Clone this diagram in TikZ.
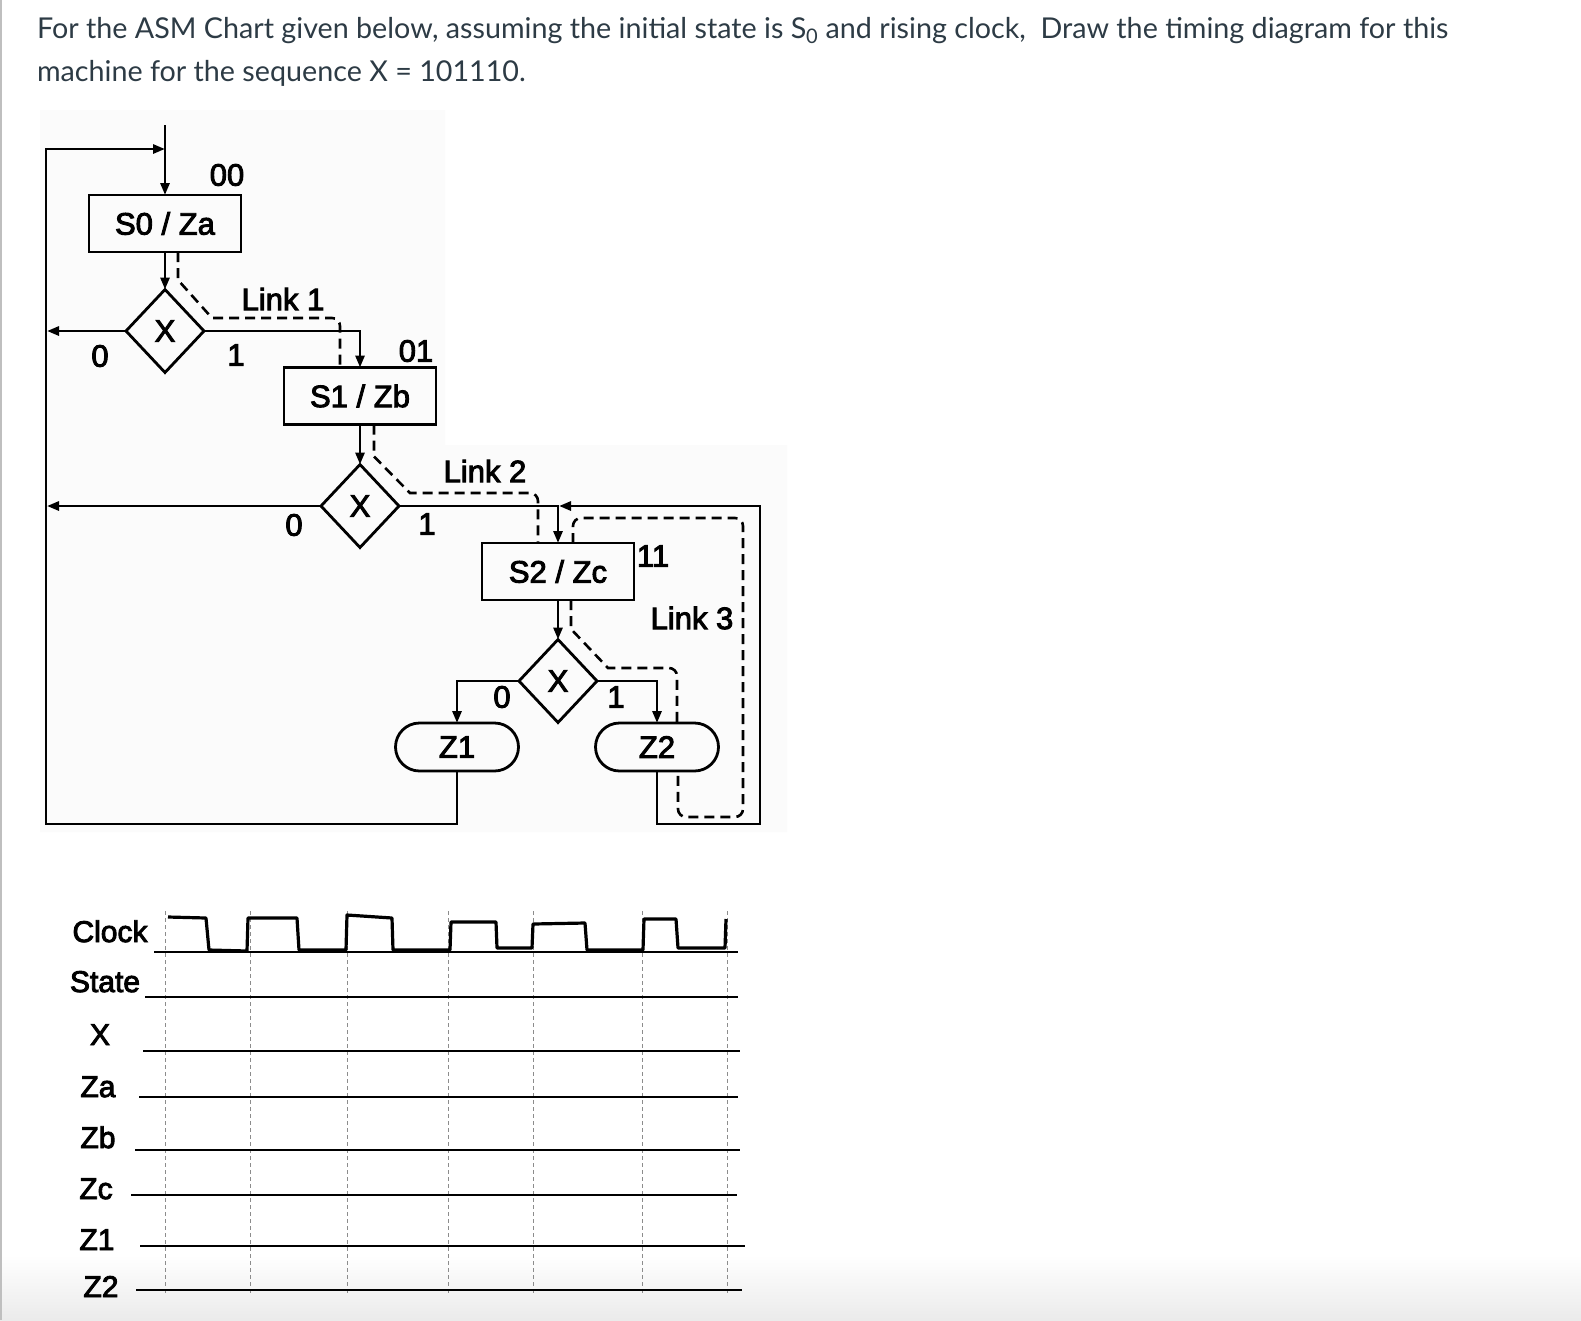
\documentclass[tikz,border=0pt]{standalone}
\usepackage{fontspec}
\usetikzlibrary{arrows.meta,shapes.geometric,shapes.misc}
\newfontfamily\titlefont{Lato}
\newfontfamily\asmfont{Liberation Sans}[FakeBold=3]
\definecolor{canvastext}{HTML}{2D3B45}
\definecolor{pastebg}{HTML}{FBFBFB}
\begin{document}
\begin{tikzpicture}[x=1pt,y=-1pt,
  every node/.style={inner sep=0pt, outer sep=0pt},
  wire/.style={line width=2.8pt, line join=miter},
  arr/.style={wire, -{Triangle[length=12pt,width=9pt]}},
  link/.style={line width=2.6pt, dash pattern=on 10pt off 6pt},
  stbox/.style={draw, line width=2.8pt, minimum width=152pt, minimum height=57pt, font=\asmfont\fontsize{31}{31}\selectfont},
  dec/.style={draw, diamond, line width=2.8pt, minimum width=78pt, minimum height=83pt, font=\asmfont\fontsize{31}{31}\selectfont},
  oval/.style={draw, rounded rectangle, line width=2.8pt, minimum width=123pt, minimum height=48pt, font=\asmfont\fontsize{31}{31}\selectfont},
  lab/.style={font=\asmfont\fontsize{31}{31}\selectfont},
  tlab/.style={font=\asmfont\fontsize{30}{30}\selectfont, anchor=base},
  ttl/.style={anchor=base west, text=canvastext, font=\titlefont\fontsize{28.7}{28.7}\selectfont},
  sig/.style={line width=2.2pt},
  gridl/.style={black!45, line width=0.9pt, dash pattern=on 4pt off 3pt},
  clk/.style={line width=3.2pt, line join=round},
]
\useasboundingbox (0,0) rectangle (1581,1320);
% page background elements
\shade[top color=white, bottom color=black!8] (0,1255) rectangle (1581,1320);
\fill[pastebg] (40,110) -- (445,110) -- (445,445) -- (787,445) -- (787,832) -- (40,832) -- cycle;
\draw[black!25, line width=2pt] (1,0) -- (1,1320);

% title
\node[ttl] (t1) at (37,38) {For the ASM Chart given below, assuming the initial state is S\textsubscript{0} and rising clock,\ \ Draw the timing diagram for this};
\node[ttl] (t2) at (37,81) {machine for the sequence X = 101110.};

% ASM chart
\coordinate (top) at (165,125);
\node[stbox] (s0) at (165,223.5) {S0 / Za};
\node[dec] (d1) at (165,331) {X};
\node[stbox] (s1) at (360,396) {S1 / Zb};
\node[dec] (d2) at (360,506) {X};
\node[stbox] (s2) at (558,571.5) {S2 / Zc};
\node[dec] (d3) at (558,681) {X};
\node[oval] (z1) at (457,747) {Z1};
\node[oval] (z2) at (657,747) {Z2};

\coordinate (lp1) at (165,149);
\coordinate (lw1) at (47,331);
\coordinate (lw2) at (47,506);
\coordinate (j2) at (559,506);

\draw[arr] (top) -- (s0.north);
\draw[arr] (z1.south) -- (457,824) -| (46,149) -- (lp1);
\draw[arr] (s0.south) -- (d1.north);
\draw[arr] (d1.west) -- (lw1);
\draw[arr] (d1.east) -| (s1.north);
\draw[arr] (s1.south) -- (d2.north);
\draw[arr] (d2.west) -- (lw2);
\draw[arr] (d2.east) -| (s2.north);
\draw[arr] (z2.south) -- (657,824) -| (760,506) -- (j2);
\draw[arr] (s2.south) -- (d3.north);
\draw[arr] (d3.west) -| (z1.north);
\draw[arr] (d3.east) -| (z2.north);

% dashed links
\draw[link] ([xshift=13pt]s0.south) -- ++(0,28) -- (212,318) [rounded corners=8pt] -| ([xshift=-20pt]s1.north);
\draw[link] ([xshift=14pt]s1.south) -- ++(0,32) -- (410,493) [rounded corners=8pt] -| ([xshift=-20pt]s2.north);
\draw[link] ([xshift=13pt]s2.south) -- ++(0,29) -- (608,668) [rounded corners=8pt] -| ([xshift=20pt]z2.north);
\draw[link, rounded corners=8pt] ([xshift=15pt]s2.north) |- (743,518) |- (678,817) -- ([xshift=21pt]z2.south);

% labels
\node[lab] (c00) at (227,175) {00};
\node[lab] (c01) at (416,351) {01};
\node[lab] (c11) at (653,556) {11};
\node[lab] (d1z) at (100,356) {0};
\node[lab] (d1o) at (236,355) {1};
\node[lab] (l1) at (283,299) {Link 1};
\node[lab] (d2z) at (294,525) {0};
\node[lab] (d2o) at (427,524) {1};
\node[lab] (l2) at (485,471) {Link 2};
\node[lab] (l3) at (692,618) {Link 3};
\node[lab] (d3z) at (502,697) {0};
\node[lab] (d3o) at (616,697) {1};

% timing diagram
\foreach \gx in {165,250,347,448,533,642,727}
  \draw[gridl] (\gx,911) -- (\gx,1293);
\draw[sig] (154,952) -- (738,952);
\draw[sig] (145,997) -- (738,997);
\draw[sig] (143,1051) -- (740,1051);
\draw[sig] (139,1097) -- (738,1097);
\draw[sig] (135,1150) -- (740,1150);
\draw[sig] (131,1195) -- (737,1195);
\draw[sig] (140,1246) -- (745,1246);
\draw[sig] (136,1290) -- (742,1290);
\draw[clk] (168,917) -- (206,918) -- (209,950) -- (247,951) -- (248,918) -- (297,918) -- (299,950) -- (346,950)
  -- (347,915) -- (392,918) -- (393,950) -- (450,950) -- (451,922) -- (496,922) -- (497,948) -- (532,948)
  -- (533,924) -- (585,923) -- (587,950) -- (643,950) -- (644,919) -- (676,919) -- (678,948) -- (725,948) -- (726,919);

\node[tlab] (tc) at (110,942) {Clock};
\node[tlab] (ts) at (105,992) {State};
\node[tlab] (tx) at (100,1045) {X};
\node[tlab] (ta) at (98,1097) {Za};
\node[tlab] (tb) at (98,1148) {Zb};
\node[tlab] (tzc) at (96,1199) {Zc};
\node[tlab] (t1z) at (97,1250) {Z1};
\node[tlab] (t2z) at (101,1297) {Z2};
\end{tikzpicture}
\end{document}
